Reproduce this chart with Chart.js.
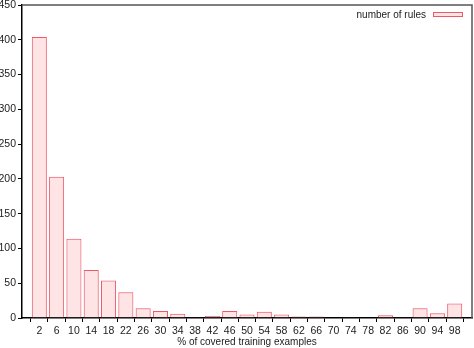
<!DOCTYPE html>
<html>
<head>
<meta charset="utf-8">
<script src="https://cdn.jsdelivr.net/npm/chart.js@4.4.1/dist/chart.umd.min.js"></script>
<style>
  html, body { margin: 0; padding: 0; background: #fff; }
  #wrap { width: 474px; height: 348px; position: relative; }
</style>
</head>
<body>
<div id="wrap"><canvas id="chart"></canvas></div>
<script>
// % of covered training examples (bin centres)
var bins = [2, 6, 10, 14, 18, 22, 26, 30, 34, 38, 42, 46, 50, 54, 58, 62, 66, 70, 74, 78, 82, 86, 90, 94, 98];
var rules = [404, 203, 114, 69, 54, 37, 14, 10, 6, 1, 3, 10, 5, 9, 5, 2, 2, 0, 1, 0, 4, 1, 14, 7, 21];
var yTicks = [0, 50, 100, 150, 200, 250, 300, 350, 400, 450];

var points = bins.map(function(b, i) { return { x: b, y: rules[i] }; });

// box round the plot and a gnuplot style key in the top right corner
var frame = {
    id: 'frame',
    afterDraw: function(chart) {
        var a = chart.chartArea, ctx = chart.ctx;
        var ds = chart.data.datasets[0];
        ctx.save();
        ctx.strokeStyle = '#555';
        ctx.lineWidth = 1.5;
        ctx.beginPath();
        ctx.moveTo(a.left, a.top);
        ctx.lineTo(a.right, a.top);
        ctx.lineTo(a.right, a.bottom);
        ctx.stroke();

        var bx = a.right - 39, by = a.top + 7;
        ctx.fillStyle = ds.backgroundColor;
        ctx.fillRect(bx, by, 29, 4);
        ctx.strokeStyle = ds.borderColor;
        ctx.lineWidth = 1;
        ctx.strokeRect(bx + 0.5, by + 0.5, 29, 4);
        ctx.fillStyle = '#222';
        ctx.font = '10px "Liberation Sans"';
        ctx.textAlign = 'right';
        ctx.textBaseline = 'middle';
        ctx.fillText(ds.label, bx - 7, by + 3);
        ctx.restore();
    }
};

var ctx = document.getElementById('chart');
var myChart = new Chart(ctx, {
    type: 'bar',
    data: {
        datasets: [{
            label: 'number of rules',
            data: points,
            backgroundColor: 'rgba(255, 205, 210, 0.55)',
            borderColor: 'rgba(235, 90, 105, 1)',
            borderWidth: 1,
            barPercentage: 0.87,
            categoryPercentage: 1
        }]
    },
    options: {
        responsive: true,
        maintainAspectRatio: false,
        animation: false,
        layout: { padding: { top: 0, right: 2, bottom: 0, left: 0 } },
        plugins: {
            legend: { display: false },
            tooltip: { enabled: false }
        },
        scales: {
            x: {
                type: 'linear',
                offset: false,
                min: -2,
                max: 102,
                afterBuildTicks: function(scale) {
                    scale.ticks = bins.map(function(v) { return { value: v }; });
                },
                afterFit: function(scale) { scale.height = 30; },
                grid: { drawOnChartArea: false, tickLength: 4, color: '#000' },
                border: { color: '#000', width: 1.5 },
                ticks: {
                    autoSkip: false,
                    maxRotation: 0,
                    padding: 3,
                    color: '#222',
                    font: { family: 'Liberation Sans', size: 10.5 }
                },
                title: {
                    display: true,
                    text: '% of covered training examples',
                    color: '#222',
                    padding: { top: 4, bottom: 0 },
                    font: { family: 'Liberation Sans', size: 10 }
                }
            },
            y: {
                min: 0,
                max: 450,
                afterBuildTicks: function(scale) {
                    scale.ticks = yTicks.map(function(v) { return { value: v }; });
                },
                afterFit: function(scale) {
                    scale.width = 22;
                    scale.paddingTop = 5;
                    scale.paddingBottom = 0;
                },
                grid: { drawOnChartArea: false, tickLength: 4, color: '#000' },
                border: { color: '#000', width: 1.5 },
                ticks: {
                    padding: 2,
                    color: '#222',
                    font: { family: 'Liberation Sans', size: 10.5 }
                }
            }
        }
    },
    plugins: [frame]
});
</script>
</body>
</html>
